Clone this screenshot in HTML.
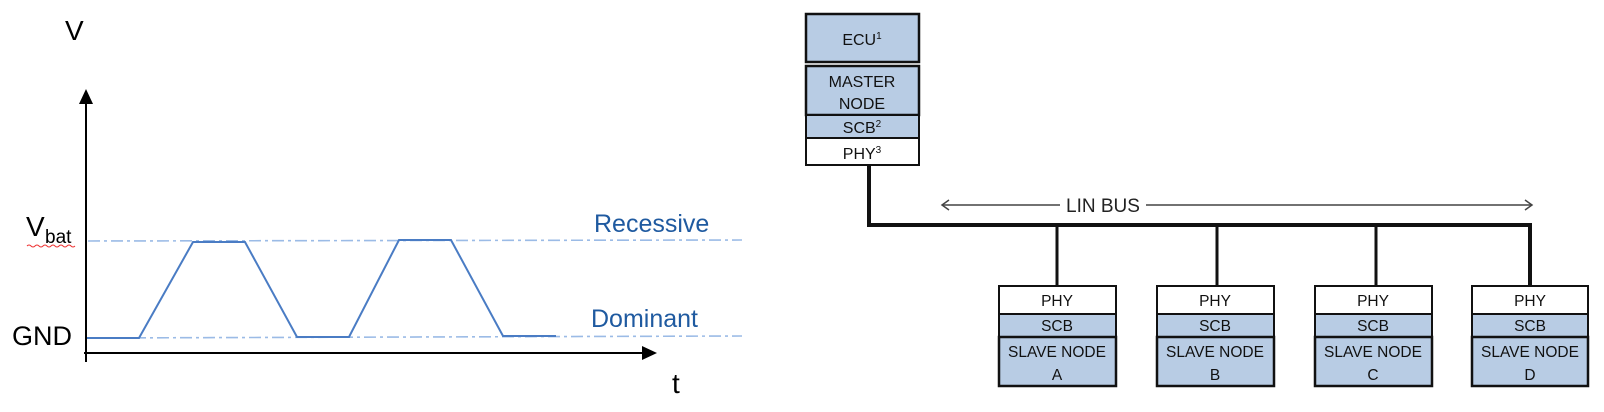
<!DOCTYPE html>
<html><head><meta charset="utf-8"><style>
html,body{margin:0;padding:0;background:#fff}
svg{display:block}
text{font-family:"Liberation Sans",sans-serif}
</style></head><body>
<svg width="1604" height="412" viewBox="0 0 1604 412" xmlns="http://www.w3.org/2000/svg">
<g>
<line x1="86" y1="100" x2="86" y2="362" stroke="#000" stroke-width="2"/>
<polygon points="86,89 79,104 93,104" fill="#000"/>
<line x1="84" y1="353" x2="645" y2="353" stroke="#000" stroke-width="2"/>
<polygon points="657,353 642,346 642,360" fill="#000"/>
<line x1="88" y1="241" x2="742" y2="240" stroke="#9bbbe6" stroke-width="1.6" stroke-dasharray="12,4,3,4"/>
<line x1="88" y1="338" x2="742" y2="336" stroke="#9bbbe6" stroke-width="1.6" stroke-dasharray="12,4,3,4"/>
<polyline points="87,338 139,338 193,242 245,242 297,337 349,337 399,240 451,240 503,336 556,336" fill="none" stroke="#4a7cc4" stroke-width="2"/>
<text x="65" y="40" font-size="28" fill="#000">V</text>
<text x="26" y="236" font-size="28" fill="#000">V</text>
<text x="45" y="243" font-size="19" fill="#000">bat</text>
<path d="M27,246 q2,-2 4,0 t4,0 t4,0 t4,0 t4,0 t4,0 t4,0 t4,0 t4,0 t4,0 t4,0 t4,0" fill="none" stroke="#e33" stroke-width="1"/>
<text x="12" y="345" font-size="27" fill="#000">GND</text>
<text x="594" y="232" font-size="25" fill="#1f5aa0">Recessive</text>
<text x="591" y="327" font-size="25" fill="#1f5aa0">Dominant</text>
<text x="672" y="393" font-size="28" fill="#000">t</text>
</g>
<g font-size="16" fill="#111">
<rect x="806" y="14" width="113" height="48" fill="#b8cce4" stroke="#111" stroke-width="2.5"/>
<rect x="806" y="66" width="113" height="49" fill="#b8cce4" stroke="#111" stroke-width="2.5"/>
<rect x="806" y="115" width="113" height="23" fill="#b8cce4" stroke="#111" stroke-width="2"/>
<rect x="806" y="138" width="113" height="27" fill="#fff" stroke="#111" stroke-width="2"/>
<text x="862" y="45" text-anchor="middle">ECU<tspan font-size="10" dy="-6">1</tspan></text>
<text x="862" y="87" text-anchor="middle">MASTER</text>
<text x="862" y="109" text-anchor="middle">NODE</text>
<text x="862" y="133" text-anchor="middle">SCB<tspan font-size="10" dy="-6">2</tspan></text>
<text x="862" y="159" text-anchor="middle">PHY<tspan font-size="10" dy="-6">3</tspan></text>
<polyline points="869,165 869,225 1530,225 1530,286" fill="none" stroke="#111" stroke-width="4"/>
<line x1="1057" y1="225" x2="1057" y2="286" stroke="#111" stroke-width="3"/>
<line x1="1217" y1="225" x2="1217" y2="286" stroke="#111" stroke-width="3"/>
<line x1="1376" y1="225" x2="1376" y2="286" stroke="#111" stroke-width="3"/>
<line x1="942" y1="205" x2="1060" y2="205" stroke="#444" stroke-width="1.5"/>
<line x1="1146" y1="205" x2="1532" y2="205" stroke="#444" stroke-width="1.5"/>
<polyline points="949,200 942,205 949,210" fill="none" stroke="#444" stroke-width="1.5"/>
<polyline points="1525,200 1532,205 1525,210" fill="none" stroke="#444" stroke-width="1.5"/>
<text x="1103" y="212" font-size="19" text-anchor="middle" fill="#222">LIN BUS</text>
</g>
<g font-size="15.5" fill="#111" text-anchor="middle">
<g transform="translate(999,0)">
<rect x="0" y="286" width="117" height="28" fill="#fff" stroke="#111" stroke-width="2"/>
<rect x="0" y="314" width="117" height="23" fill="#b8cce4" stroke="#111" stroke-width="2"/>
<rect x="0" y="337" width="117" height="49" fill="#b8cce4" stroke="#111" stroke-width="2.5"/>
<text x="58" y="306">PHY</text><text x="58" y="331">SCB</text><text x="58" y="357">SLAVE NODE</text><text x="58" y="380">A</text>
</g>
<g transform="translate(1157,0)">
<rect x="0" y="286" width="117" height="28" fill="#fff" stroke="#111" stroke-width="2"/>
<rect x="0" y="314" width="117" height="23" fill="#b8cce4" stroke="#111" stroke-width="2"/>
<rect x="0" y="337" width="117" height="49" fill="#b8cce4" stroke="#111" stroke-width="2.5"/>
<text x="58" y="306">PHY</text><text x="58" y="331">SCB</text><text x="58" y="357">SLAVE NODE</text><text x="58" y="380">B</text>
</g>
<g transform="translate(1315,0)">
<rect x="0" y="286" width="117" height="28" fill="#fff" stroke="#111" stroke-width="2"/>
<rect x="0" y="314" width="117" height="23" fill="#b8cce4" stroke="#111" stroke-width="2"/>
<rect x="0" y="337" width="117" height="49" fill="#b8cce4" stroke="#111" stroke-width="2.5"/>
<text x="58" y="306">PHY</text><text x="58" y="331">SCB</text><text x="58" y="357">SLAVE NODE</text><text x="58" y="380">C</text>
</g>
<g transform="translate(1472,0)">
<rect x="0" y="286" width="116" height="28" fill="#fff" stroke="#111" stroke-width="2"/>
<rect x="0" y="314" width="116" height="23" fill="#b8cce4" stroke="#111" stroke-width="2"/>
<rect x="0" y="337" width="116" height="49" fill="#b8cce4" stroke="#111" stroke-width="2.5"/>
<text x="58" y="306">PHY</text><text x="58" y="331">SCB</text><text x="58" y="357">SLAVE NODE</text><text x="58" y="380">D</text>
</g>
</g>
</svg>
</body></html>
